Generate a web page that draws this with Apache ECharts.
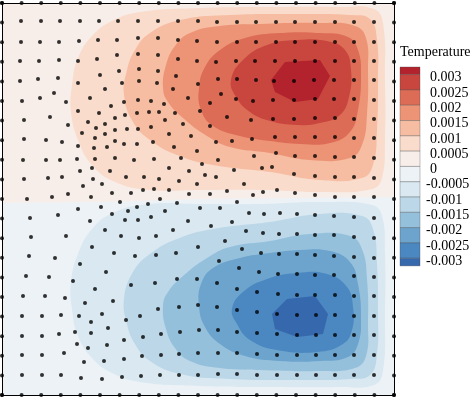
<!DOCTYPE html>
<html>
<head>
<meta charset="utf-8">
<script src="https://cdn.jsdelivr.net/npm/echarts@6/dist/echarts.min.js"></script>
<style>
html, body { margin: 0; padding: 0; background: #fff; }
#chart { width: 474px; height: 397px; }
</style>
</head>
<body>
<div id="chart"></div>
<script>
// cavity side length, same units as the node coordinates
var side = 392;

// colour scale: contour levels and the band colours between them (top to bottom)
var levels = ['0.003', '0.0025', '0.002', '0.0015', '0.001', '0.0005', '0',
              '-0.0005', '-0.001', '-0.0015', '-0.002', '-0.0025', '-0.003'];
var bandColors = ['#b2232d', '#c9463f', '#dd6c56', '#ed9477', '#f6bda2', '#fadccd', '#f7eeea',
                  '#edf2f6', '#d9e8f1', '#bbd7e8', '#95c0dc', '#6ca4cd', '#4b87c0', '#3668ae'];

// mesh nodes sitting on the walls
var wallStops = [0, 19.6, 39.2, 58.8, 78.4, 98, 117.6, 137.2, 156.8, 176.4, 196,
                 215.6, 235.2, 254.8, 274.4, 294, 313.6, 333.2, 352.8, 372.4, 392];

// interior mesh nodes [x, y]
var upperNodes = [
  [19,374],[39,374],[58,374],[78,374],[97,374],[116,374],[136,374],[156,374],[176,374],[196,374],
  [215,373],[235,373],[254,373],[274,373],[293,373],[313,373],[333,373],[352,373],[372,373],
  [19,353],[38,353],[57,353],[77,354],[96,355],[115,355],[136,357],[156,357],[176,355],[195,354],
  [215,353],[235,353],[254,353],[274,353],[293,353],[313,353],[333,353],[352,353],[372,353],
  [18,334],[37,334],[57,335],[76,334],[95,336],[115,340],[136,341],[156,340],[176,336],[195,334],
  [214,333],[234,334],[253,334],[273,334],[293,334],[313,334],[333,334],[352,334],[372,334],
  [36,316],[56,317],[98,320],[117,324],[137,326],[156,324],[174,319],
  [216,316],[235,316],[254,315],[272,314],[292,314],[312,315],[332,315],[352,315],[372,315]
];
var leftUpperNodes = [
  [18,314],[76,312],[120,312],[52,302],[103,306],
  [20,294],[38,297],[64,293],[88,297],[122,293],
  [76,284],[97,282],[109,289],[123,280],
  [22,275],[48,278],[66,270],[86,273],[94,267],[103,271],[113,277],
  [80,262],[103,261],[113,265],[125,266],
  [22,256],[44,255],[60,253],[93,257],[113,254],[122,251],
  [76,249],[92,247],[105,248],
  [21,235],[44,235],[58,235],[75,236],[93,236],[113,237],
  [78,224],[90,227],[108,224],
  [22,216],[46,217],[60,218],[91,216],[81,209],[100,211],[124,218],
  [25,196],[50,198],[66,201],[89,198],[110,202],[118,193],
  [76,186],[99,188]
];
var midUpperNodes = [
  [137,314],[155,312],[196,311],[171,306],
  [219,301],[186,297],[234,296],[251,294],
  [136,295],[149,294],[162,291],[208,292],
  [135,282],[147,283],[157,283],[173,282],[198,284],
  [163,275],[225,278],[249,275],
  [136,266],[149,268],[181,271],[208,269],
  [167,261],[189,259],[230,254],[250,256],[214,253],
  [151,253],[135,251],[172,248],[195,244],
  [132,235],[152,236],[179,237],[216,235],[252,239],
  [167,227],[200,231],[232,225],[260,227],
  [142,218],[157,216],[187,224],[203,220],[214,218],
  [177,214],[242,211],
  [141,205],[152,206],[167,205],[195,211],[129,202],[225,204],[261,203],
  [208,201],[187,201],[251,200],
  [158,196],[175,192],[235,193],
  [135,188],[146,191],[198,187],[218,187]
];
var rightUpperNodes = [
  [271,295],[292,295],[313,296],[332,296],[352,296],[372,295],
  [271,276],[292,276],[313,277],[333,277],[352,276],[372,276],
  [273,258],[293,258],[313,258],[333,258],[352,257],[372,257],
  [274,242],[293,239],[313,239],[333,238],[352,238],[372,237],
  [270,228],[292,221],[313,219],[333,218],[352,218],[372,217],
  [275,205],[293,202],[313,200],[333,198],[352,198],[372,198]
];
var leftLowerNodes = [
  [28,177],[56,180],[88,174],[110,181],[123,175],[126,184],
  [29,158],[64,159],[103,165],[119,159],
  [90,148],[112,142],
  [27,139],[53,137],[78,131],
  [24,119],[47,118],[71,114],[104,123],
  [21,99],[43,99],[63,97],[93,106],[83,92],[111,94],
  [20,79],[40,79],[59,80],[77,79],[100,81],[124,75],[89,73],[106,67],
  [20,59],[40,59],[57,61],[73,63],[89,62],[122,55],[75,51],[105,50],[86,47]
];
var midLowerNodes = [
  [163,184],[247,182],[262,181],
  [136,175],[149,178],[186,174],[209,169],[230,173],
  [137,157],[154,159],[171,165],[244,164],[261,162],
  [133,139],[154,140],[174,142],[196,148],[223,154],[240,146],[259,142],
  [217,134],[237,127],[257,123],
  [129,110],[153,112],[175,116],[195,116],[215,112],[235,106],[255,103],
  [156,86],[177,88],[196,90],[215,88],[235,85],[255,83],
  [138,79],
  [141,58],[159,61],[178,63],[197,65],[216,65],[235,63],[255,62]
];
var rightLowerNodes = [
  [278,182],[295,181],[313,180],[332,179],[352,178],[372,177],
  [277,161],[295,161],[313,160],[332,160],[352,158],[372,157],
  [277,141],[295,141],[313,140],[332,139],[352,138],[372,137],
  [276,121],[295,121],[313,120],[332,120],[352,119],[372,118],
  [276,101],[295,100],[313,100],[333,100],[352,99],[372,99],
  [275,81],[295,80],[314,80],[333,80],[352,79],[372,79],
  [275,61],[295,60],[314,60],[333,60],[352,60],[372,60]
];
var lowerNodes = [
  [20,40],[40,40],[62,42],[82,33],[102,34],[122,36],[140,39],[159,40],[177,41],[196,42],
  [216,42],[235,42],[255,41],[275,40],[295,40],[314,40],[333,40],[352,40],[372,40],
  [20,20],[40,20],[59,20],[79,17],[100,16],[120,18],[139,19],[158,20],[177,20],[196,20],
  [216,21],[235,21],[255,20],[275,20],[295,20],[314,20],[333,20],[352,20],[372,20]
];

// T = 0 contour, left wall to right wall
var zeroLine = [[0,192],[100,193],[200,196],[300,197],[392,198]];

// warm cell contours: 0.0005, 0.001, ... 0.003
var warmContours = [
  [[69,283],[70,310],[76,337],[90,359],[110,374],[138,383],[198,387],[268,388],[338,388],[372,386],[381,372],[383,315],[383,255],[380,217],[370,206],[318,203],[258,205],[198,205],[148,205],[113,213],[90,230],[76,255]],
  [[122,300],[125,325],[133,345],[148,362],[178,375],[228,380],[298,381],[348,380],[368,376],[375,355],[376,315],[375,265],[371,230],[360,217],[318,215],[268,223],[211,230],[175,240],[148,255],[131,273]],
  [[161,307],[164,330],[173,349],[188,362],[218,369],[258,371],[318,372],[353,369],[364,357],[366,325],[365,280],[360,250],[348,237],[308,235],[268,242],[228,248],[205,259],[181,277],[166,293]],
  [[197,307],[203,328],[218,345],[243,357],[278,362],[318,362],[346,358],[356,345],[359,320],[356,285],[348,263],[328,252],[298,251],[268,254],[238,259],[211,269],[199,285]],
  [[229,315],[241,335],[265,350],[295,355],[325,354],[343,345],[349,325],[347,298],[338,280],[318,272],[295,270],[268,274],[248,283],[234,298]],
  [[269,315],[283,333],[318,335],[328,319],[316,296],[293,293],[273,303]]
];
// cold cell contours: -0.0005, -0.001, ... -0.003
var coldContours = [
  [[69,113],[70,86],[76,59],[90,37],[110,22],[138,13],[198,9],[268,8],[338,8],[372,10],[381,24],[383,81],[383,141],[380,179],[370,190],[318,193],[258,191],[198,191],[148,191],[113,183],[90,166],[76,141]],
  [[122,96],[125,71],[133,51],[148,34],[178,21],[228,16],[298,15],[348,16],[368,20],[375,41],[376,81],[375,131],[371,166],[360,179],[318,181],[268,173],[211,166],[175,156],[148,141],[131,123]],
  [[161,89],[164,66],[173,47],[188,34],[218,27],[258,25],[318,24],[353,27],[364,39],[366,71],[365,116],[360,146],[348,159],[308,161],[268,154],[228,148],[205,137],[181,119],[166,103]],
  [[197,89],[203,68],[218,51],[243,39],[278,34],[318,34],[346,38],[356,51],[359,76],[356,111],[348,133],[328,144],[298,145],[268,142],[238,137],[211,127],[199,111]],
  [[230,86],[241,103],[265,116],[295,122],[325,121],[345,108],[351,88],[350,65],[341,51],[315,43],[275,45],[248,55],[235,71]],
  [[270,81],[285,96],[313,99],[326,81],[321,61],[295,58],[273,66]]
];

// ---- build the filled bands, drawn from the outside in ----
var bands = [];
bands.push({ path: [[0,0],[side,0],[side,side],[0,side]], color: bandColors[6], smooth: 0 });
bands.push({ path: [[0,0],[side,0]].concat(zeroLine.slice().reverse()), color: bandColors[7], smooth: 0 });
warmContours.forEach(function (c, i) {
  bands.push({ path: c, color: bandColors[5 - i], smooth: i === 5 ? 0 : 0.45 });
});
coldContours.forEach(function (c, i) {
  bands.push({ path: c, color: bandColors[8 + i], smooth: i === 5 ? 0 : 0.45 });
});

var nodes = [].concat(upperNodes, leftUpperNodes, midUpperNodes, rightUpperNodes,
                      leftLowerNodes, midLowerNodes, rightLowerNodes, lowerNodes);
wallStops.forEach(function (s) {
  nodes.push([s, 0], [s, side], [0, s], [side, s]);
});

// ---- colour bar ----
var font = '"Liberation Serif", "Times New Roman", serif';
var barX = 400, barW = 20, barTop = 67, step = 15.3;
var legend = [{
  type: 'text', left: barX, top: 45,
  style: { text: 'Temperature', font: '14px ' + font, fill: '#000' }
}];
bandColors.forEach(function (c, i) {
  var y0 = i === 0 ? barTop : barTop + step / 2 + (i - 1) * step;
  var h = (i === 0 || i === bandColors.length - 1) ? step / 2 : step;
  legend.push({
    type: 'rect', shape: { x: barX, y: y0, width: barW, height: h },
    style: { fill: c, stroke: 'rgba(70,70,70,0.55)', lineWidth: 0.6 }
  });
});
levels.forEach(function (t, k) {
  var yb = barTop + step / 2 + k * step;
  legend.push({
    type: 'text', x: t.charAt(0) === '-' ? 426 : 430, y: yb + 3,
    style: { text: t, font: '14px ' + font, fill: '#000', textVerticalAlign: 'middle', verticalAlign: 'middle' }
  });
});

function frameAxis(pos) {
  return {
    type: 'value', min: 0, max: side, position: pos, z: 10,
    axisLine: { show: true, onZero: false, lineStyle: { color: '#000', width: 1 } },
    axisTick: { show: false }, axisLabel: { show: false }, splitLine: { show: false }
  };
}

var chart = echarts.init(document.getElementById('chart'));
chart.setOption({
  animation: false,
  backgroundColor: '#fff',
  grid: { left: 2, top: 3, width: 392, height: 392 },
  xAxis: [frameAxis('bottom'), frameAxis('top')],
  yAxis: [frameAxis('left'), frameAxis('right')],
  graphic: legend,
  series: [
    {
      type: 'custom',
      coordinateSystem: 'cartesian2d',
      data: bands.map(function (b, i) { return [i]; }),
      clip: true,
      z: 2,
      silent: true,
      renderItem: function (params, api) {
        var band = bands[params.dataIndex];
        return {
          type: 'polygon',
          shape: { points: band.path.map(function (p) { return api.coord(p); }), smooth: band.smooth },
          style: { fill: band.color }
        };
      }
    },
    {
      type: 'scatter',
      data: nodes,
      symbol: 'circle',
      symbolSize: 4,
      itemStyle: { color: '#000' },
      clip: false,
      z: 20,
      silent: true
    }
  ]
});
</script>
</body>
</html>
